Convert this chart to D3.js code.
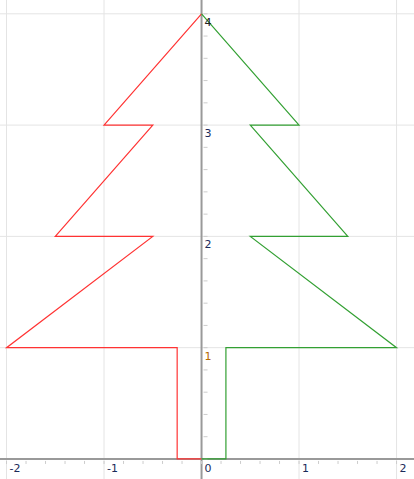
<!DOCTYPE html><html><head><script src="https://cdn.jsdelivr.net/npm/d3@7"></script>
<style>body{margin:0;background:#fff}</style></head><body><svg id="c" width="414" height="479"></svg>
<script>
const redX=[0,-1,-0.5,-1.5,-0.5,-2,-0.25,-0.25,0];
const redY=[4,3,3,2,2,1,1,0,0];
const greenX=[0,1,0.5,1.5,0.5,2,0.25,0.25,0];
const greenY=[4,3,3,2,2,1,1,0,0];
const xTicks=[-2,-1,0,1,2];
const yTicks=[1,2,3,4];
const W=414,H=479;
const x=d3.scaleLinear().domain([-2.067,2.179]).range([0,W]);
const y=d3.scaleLinear().domain([-0.18,4.124]).range([H,0]);
const svg=d3.select("#c");
const g=svg.append("g");
d3.range(-2,3).forEach(v=>g.append("line").attr("x1",x(v)).attr("x2",x(v)).attr("y1",0).attr("y2",H).attr("stroke","#e4e4e4"));
d3.range(0,5).forEach(v=>g.append("line").attr("y1",y(v)).attr("y2",y(v)).attr("x1",0).attr("x2",W).attr("stroke","#e4e4e4"));
svg.append("line").attr("x1",x(0)).attr("x2",x(0)).attr("y1",0).attr("y2",H).attr("stroke","#999").attr("stroke-width",2);
svg.append("line").attr("y1",y(0)).attr("y2",y(0)).attr("x1",0).attr("x2",W).attr("stroke","#999").attr("stroke-width",2);
d3.range(-2.2,2.21,0.2).forEach(v=>{svg.append("line").attr("x1",x(v)).attr("x2",x(v)).attr("y1",y(0)+2).attr("y2",y(0)+5).attr("stroke","#ccc");});
d3.range(0,4.2,0.2).forEach(v=>{svg.append("line").attr("y1",y(v)).attr("y2",y(v)).attr("x1",x(0)+2).attr("x2",x(0)+6).attr("stroke","#ccc");});
const line=d3.line().x(d=>x(d[0])).y(d=>y(d[1]));
svg.append("path").attr("d",line(redX.map((v,i)=>[v,redY[i]]))).attr("fill","none").attr("stroke","#ff3333").attr("stroke-width",1.2);
svg.append("path").attr("d",line(greenX.map((v,i)=>[v,greenY[i]]))).attr("fill","none").attr("stroke","#33a033").attr("stroke-width",1.2);
const f="font-family:'DejaVu Sans';font-size:11px";
xTicks.forEach(v=>svg.append("text").attr("x",x(v)+3).attr("y",y(0)+13).attr("style",f).attr("fill","#1a2a5a").text(v));
const yc={1:"#b86a00",2:"#1a2a5a",3:"#1a2a5a",4:"#222"};
yTicks.forEach(v=>svg.append("text").attr("x",x(0)+3).attr("y",y(v)+12).attr("style",f).attr("fill",yc[v]).text(v));
</script></body></html>
